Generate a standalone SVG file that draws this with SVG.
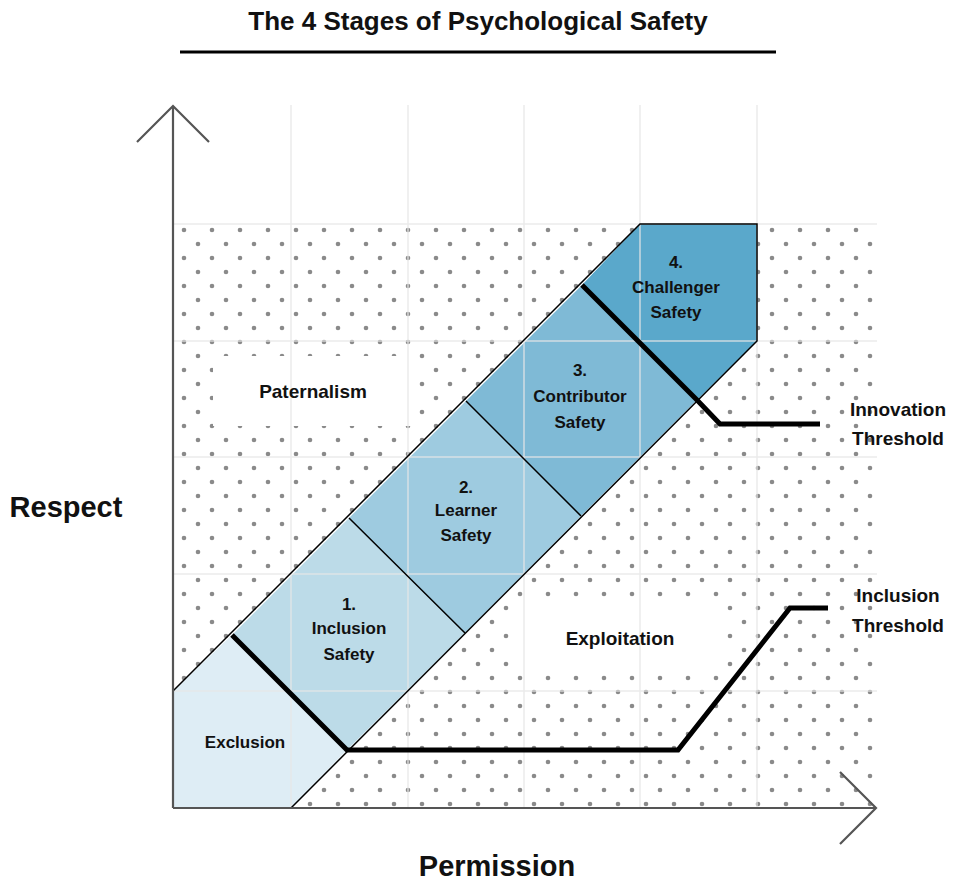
<svg xmlns="http://www.w3.org/2000/svg" width="960" height="888" viewBox="0 0 960 888">
<defs>
<pattern id="dots" x="173" y="224" width="28" height="28" patternUnits="userSpaceOnUse">
<circle cx="11" cy="6" r="2.3" fill="#8a8a8a"/><circle cx="25" cy="20" r="2.3" fill="#8a8a8a"/>
</pattern>
<style>
.t{font-family:"Liberation Sans",Arial,sans-serif;font-weight:bold;fill:#111;text-anchor:middle}
.s{font-size:17px}
.g{stroke:#e6e6e6;stroke-width:1.5;fill:none}
.edge{stroke:#000;stroke-width:1.5;fill:none}
.thick{stroke:#000;stroke-width:5;fill:none}
</style>
</defs>
<rect width="960" height="888" fill="#fff"/>
<g id="title">
<text class="t" x="478" y="30" font-size="26">The 4 Stages of Psychological Safety</text>
<line x1="180" y1="52" x2="776" y2="52" stroke="#000" stroke-width="3"/>
</g>
<g id="background">
<rect x="173" y="224" width="704" height="584" fill="url(#dots)"/>
<rect x="213" y="356" width="200" height="70" fill="#fff"/>
<rect x="512" y="603" width="210" height="68" fill="#fff"/>
</g>
<g id="band">
<polygon id="exclusion" points="173,691 232,635 347,750 291,808 173,808" fill="#deedf5"/>
<polygon id="stage1" points="232,635 349,518 465,633 347,750" fill="#bcdbe8"/>
<polygon id="stage2" points="349,518 466,401 581,516 465,633" fill="#9ecbe0"/>
<polygon id="stage3" points="466,401 582,285 697,400 581,516" fill="#7fbad6"/>
<polygon id="stage4" points="582,285 640,224 757,224 757,341 697,400" fill="#5aa8cb"/>
</g>
<g id="grid">
<path class="g" d="M291 105V808M408 105V808M524 105V808M640 105V808M757 105V808M173 224H877M173 341H877M173 457H877M173 574H877M173 691H877" stroke-opacity="0.8"/>
</g>
<g id="connectors">
<path class="edge" d="M173 691L640 224H757V341L291 808"/>
<path class="edge" d="M349 518L465 633M466 401L581 516"/>
<path class="thick" d="M232 635L347 750H678L790 608H828"/>
<path class="thick" d="M582 285L697 400L720 424H820"/>
</g>
<g id="axes">
<path d="M173 808V106M137 142L173 106L209 142" stroke="#555" stroke-width="2.2" fill="none"/>
<path d="M173 808H876M840 772L876 808L840 844" stroke="#555" stroke-width="2.2" fill="none"/>
</g>
<g id="labels">
<text class="t s" x="245" y="748">Exclusion</text>
<text class="t s" x="349" y="610">1.</text>
<text class="t s" x="349" y="634">Inclusion</text>
<text class="t s" x="349" y="660">Safety</text>
<text class="t s" x="466" y="493">2.</text>
<text class="t s" x="466" y="516">Learner</text>
<text class="t s" x="466" y="541">Safety</text>
<text class="t s" x="580" y="376">3.</text>
<text class="t s" x="580" y="402">Contributor</text>
<text class="t s" x="580" y="428">Safety</text>
<text class="t s" x="676" y="268">4.</text>
<text class="t s" x="676" y="293">Challenger</text>
<text class="t s" x="676" y="318">Safety</text>
<text class="t" x="313" y="398" font-size="19">Paternalism</text>
<text class="t" x="620" y="645" font-size="19">Exploitation</text>
<text class="t" x="898" y="416" font-size="19">Innovation</text>
<text class="t" x="898" y="445" font-size="19">Threshold</text>
<text class="t" x="898" y="602" font-size="19">Inclusion</text>
<text class="t" x="898" y="632" font-size="19">Threshold</text>
<text class="t" x="66" y="517" font-size="29">Respect</text>
<text class="t" x="497" y="876" font-size="29">Permission</text>
</g>
</svg>
